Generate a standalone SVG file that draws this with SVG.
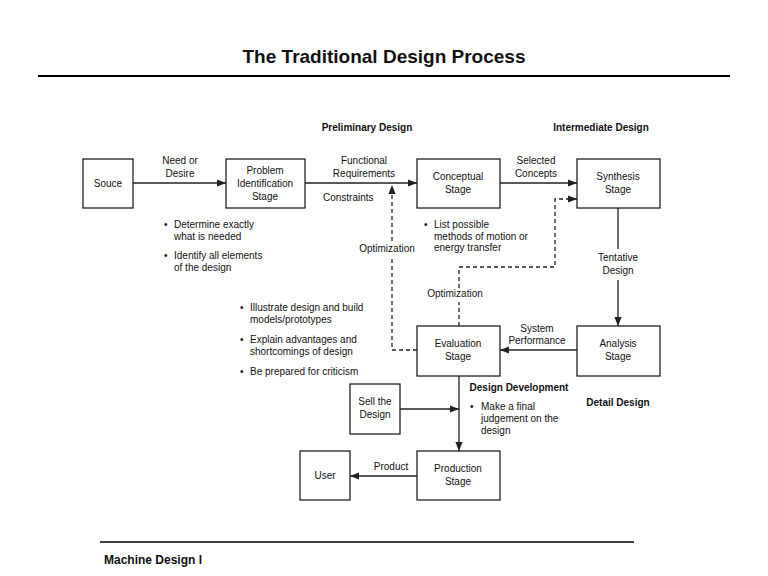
<svg xmlns="http://www.w3.org/2000/svg" width="768" height="576" viewBox="0 0 768 576">
<style>
text{font-family:"Liberation Sans",Arial,sans-serif;font-size:10px;fill:#111}
.t{font-size:19px;font-weight:bold}
.b{font-weight:bold}
.m{text-anchor:middle}
rect{fill:#fff;stroke:#222;stroke-width:1.3}
.c line,.c path{stroke:#222;stroke-width:1.3;fill:none}
.d{stroke-dasharray:4,3}
</style>
<defs><marker id="a" viewBox="0 0 10 10" refX="10" refY="5" markerWidth="7" markerHeight="7" orient="auto"><path d="M0,1 L10,5 L0,9z" fill="#222"/></marker></defs>
<rect x="0" y="0" width="768" height="576" style="stroke:none"/>
<text class="t m" x="384" y="63">The Traditional Design Process</text>
<line x1="38" y1="76" x2="730" y2="76" stroke="#000" stroke-width="2"/>
<line x1="100" y1="542" x2="634" y2="542" stroke="#000" stroke-width="1.5"/>
<text class="b" x="104" y="564" style="font-size:12px">Machine Design I</text>
<text class="b m" x="367" y="131">Preliminary Design</text>
<text class="b m" x="601" y="131">Intermediate Design</text>
<text class="b m" x="519" y="391">Design Development</text>
<text class="b m" x="618" y="406">Detail Design</text>
<g class="c">
<line x1="133" y1="183" x2="226" y2="183" marker-end="url(#a)"/>
<line x1="305" y1="183" x2="417" y2="183" marker-end="url(#a)"/>
<line x1="500" y1="183" x2="577" y2="183" marker-end="url(#a)"/>
<line x1="618" y1="208" x2="618" y2="249"/>
<line x1="618" y1="280" x2="618" y2="326" marker-end="url(#a)"/>
<line x1="577" y1="350" x2="500" y2="350" marker-end="url(#a)"/>
<line x1="459" y1="376" x2="459" y2="451" marker-end="url(#a)"/>
<line x1="400" y1="409" x2="459" y2="409" marker-end="url(#a)"/>
<line x1="417" y1="476" x2="350" y2="476" marker-end="url(#a)"/>
<path class="d" d="M417,350 H392 V256 M392,241 V185" marker-end="url(#a)"/>
<path class="d" d="M459,326 V302 M459,288 V267 H555 V199 H577" marker-end="url(#a)"/>
</g>
<text class="m" x="364" y="164">Functional</text><text class="m" x="364" y="177">Requirements</text>
<text class="m" x="180" y="164">Need or</text><text class="m" x="180" y="177">Desire</text>
<text x="323" y="201">Constraints</text>
<text class="m" x="387" y="252">Optimization</text>
<text class="m" x="536" y="164">Selected</text><text class="m" x="536" y="177">Concepts</text>
<text class="m" x="455" y="297">Optimization</text>
<text class="m" x="618" y="261">Tentative</text><text class="m" x="618" y="274">Design</text>
<text class="m" x="537" y="332">System</text><text class="m" x="537" y="344">Performance</text>
<text class="m" x="391" y="470">Product</text>
<g id="bullets">
<text x="164" y="228">•</text><text x="174" y="228">Determine exactly</text><text x="174" y="240">what is needed</text>
<text x="164" y="259">•</text><text x="174" y="259">Identify all elements</text><text x="174" y="271">of the design</text>
<text x="424" y="228">•</text><text x="434" y="228">List possible</text><text x="434" y="240">methods of motion or</text><text x="434" y="251">energy transfer</text>
<text x="240" y="311">•</text><text x="250" y="311">Illustrate design and build</text><text x="250" y="323">models/prototypes</text>
<text x="240" y="343">•</text><text x="250" y="343">Explain advantages and</text><text x="250" y="355">shortcomings of design</text>
<text x="240" y="375">•</text><text x="250" y="375">Be prepared for criticism</text>
<text x="470" y="410">•</text><text x="481" y="410">Make a final</text><text x="481" y="422">judgement on the</text><text x="481" y="434">design</text>
</g>
<g id="souce"><rect x="83" y="159" width="50" height="49"/><text class="m" x="108" y="187">Souce</text></g>
<g id="problem"><rect x="226" y="159" width="79" height="49"/><text class="m" x="265" y="174">Problem</text><text class="m" x="265" y="187">Identification</text><text class="m" x="265" y="200">Stage</text></g>
<g id="conceptual"><rect x="417" y="159" width="83" height="49"/><text class="m" x="458" y="180">Conceptual</text><text class="m" x="458" y="193">Stage</text></g>
<g id="synthesis"><rect x="577" y="159" width="83" height="49"/><text class="m" x="618" y="180">Synthesis</text><text class="m" x="618" y="193">Stage</text></g>
<g id="analysis"><rect x="577" y="326" width="83" height="50"/><text class="m" x="618" y="347">Analysis</text><text class="m" x="618" y="360">Stage</text></g>
<g id="evaluation"><rect x="417" y="326" width="83" height="50"/><text class="m" x="458" y="347">Evaluation</text><text class="m" x="458" y="360">Stage</text></g>
<g id="sell"><rect x="350" y="384" width="50" height="50"/><text class="m" x="375" y="405">Sell the</text><text class="m" x="375" y="418">Design</text></g>
<g id="production"><rect x="417" y="451" width="83" height="49"/><text class="m" x="458" y="472">Production</text><text class="m" x="458" y="485">Stage</text></g>
<g id="user"><rect x="300" y="451" width="50" height="49"/><text class="m" x="325" y="479">User</text></g>
</svg>
